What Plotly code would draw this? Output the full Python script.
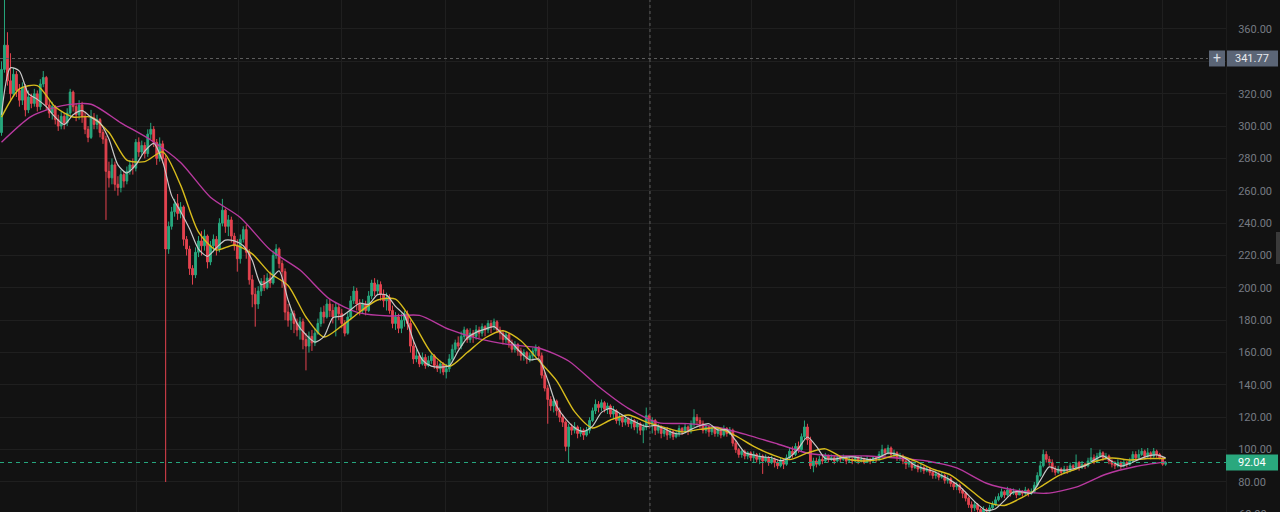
import numpy as np
import plotly.graph_objects as go

# ---------------- data ----------------
first_open = 296

closes = [
    335, 350, 328, 320, 332, 322, 316, 324, 310, 318,
    314, 320, 312, 326, 330, 313, 308, 312, 304, 300,
    306, 302, 308, 321, 312, 307, 313, 306, 298, 293,
    305, 301, 304, 296, 292, 272, 268, 276, 264, 262,
    270, 266, 272, 276, 274, 290, 284, 288, 283, 295,
    298, 290, 280, 289, 280, 224, 238, 247, 252, 246,
    250, 230, 224, 212, 208, 222, 229, 226, 232, 216,
    226, 230, 224, 240, 248, 238, 242, 232, 226, 218,
    230, 236, 222, 205, 196, 190, 198, 204, 200, 206,
    203, 220, 224, 215, 210, 185, 180, 184, 178, 174,
    179, 168, 164, 170, 166, 172, 178, 185, 182, 190,
    186, 182, 188, 184, 178, 172, 182, 192, 198, 190,
    186, 190, 186, 195, 203, 198, 202, 196, 192, 194,
    186, 178, 182, 175, 180, 184, 178, 164, 156, 158,
    153, 157, 152, 155, 158, 152, 150, 153, 148, 150,
    156, 162, 166, 164, 170, 174, 168, 172, 170, 174,
    172, 176, 174, 178, 176, 179, 174, 172, 168, 171,
    166, 162, 165, 161, 158, 160, 156, 158, 161, 163,
    158, 146, 138, 131, 127, 130, 124, 120, 117, 102,
    114, 112, 114, 110, 112, 109, 112, 118, 124, 128,
    126, 129, 125, 127, 122, 124, 118, 120, 117, 119,
    116, 118, 114, 116, 112, 114, 121, 116, 118, 112,
    114, 110, 112, 109, 111, 108, 110, 113, 111, 114,
    112, 116, 120, 118, 116, 112, 114, 111, 113, 110,
    112, 109, 113, 110, 112, 104, 100, 97, 99, 96,
    98, 95, 97, 94, 96, 93, 95, 92, 94, 92,
    90, 93, 91, 95, 99, 97, 102, 100, 108, 114,
    106, 90, 93, 91, 94, 93, 96, 94, 95, 93,
    95, 94, 95, 93, 94, 93, 95, 93, 94, 92,
    94, 93, 95, 94, 97, 100, 98, 101, 97, 98,
    95, 96, 93, 91, 92, 89, 90, 88, 89, 87,
    88, 86, 84, 85, 83, 84, 81, 82, 79, 77,
    78, 75, 73, 70, 66, 64, 66, 63, 61, 63,
    62, 64, 66, 69, 71, 74, 72, 75, 73, 74,
    72, 74, 73, 75, 73, 74, 78, 84, 90, 97,
    94, 92, 88, 86, 88, 86, 88, 87, 90, 89,
    92, 89, 91, 90, 93, 95, 93, 96, 98, 95,
    96, 93, 91, 90, 92, 90, 92, 91, 93, 97,
    95, 97, 99, 96, 98, 96, 99, 97, 95, 91,
    92.04,
]

highs = [
    340, 378, 358, 345, 336, 334, 326, 327, 326, 322,
    320, 323, 322, 329, 334, 331, 316, 315, 313, 307,
    309, 308, 311, 323, 322, 314, 316, 315, 309, 300,
    310, 308, 307, 305, 298, 294, 278, 280, 278, 269,
    273, 272, 275, 279, 280, 292, 293, 291, 290, 298,
    302, 300, 292, 293, 291, 282, 241, 250, 255, 258,
    253, 251, 232, 226, 214, 225, 232, 235, 236, 233,
    229, 233, 232, 243, 255, 249, 245, 244, 234, 230,
    233, 238, 239, 224, 208, 200, 201, 206, 208, 209,
    210, 223, 227, 225, 217, 212, 190, 187, 186, 181,
    182, 181, 172, 173, 174, 175, 181, 188, 189, 193,
    193, 190, 191, 190, 187, 180, 185, 195, 201, 200,
    193, 193, 192, 198, 205, 206, 205, 204, 199, 197,
    196, 189, 185, 184, 184, 186, 186, 180, 167, 162,
    160, 160, 159, 158, 160, 159, 155, 155, 154, 153,
    159, 165, 168, 170, 173, 176, 175, 175, 174, 177,
    176, 178, 177, 180, 180, 181, 180, 176, 174, 173,
    172, 168, 167, 166, 163, 162, 161, 160, 163, 165,
    164, 160, 148, 140, 133, 132, 131, 126, 122, 118,
    116, 116, 117, 115, 114, 113, 114, 120, 126, 131,
    130, 131, 130, 129, 128, 127, 125, 122, 121, 121,
    120, 120, 119, 118, 117, 116, 126, 122, 120, 119,
    116, 115, 114, 114, 113, 112, 112, 115, 114, 116,
    115, 118, 125, 122, 120, 118, 116, 115, 115, 114,
    114, 113, 115, 114, 114, 113, 106, 101, 100, 100,
    99, 99, 99, 98, 98, 97, 97, 96, 96, 95,
    94, 95, 94, 97, 101, 102, 104, 105, 110, 118,
    116, 108, 95, 95, 96, 96, 98, 97, 97, 96,
    97, 96, 97, 96, 96, 95, 96, 96, 96, 95,
    96, 95, 96, 96, 99, 103, 101, 103, 102, 100,
    99, 98, 97, 94, 94, 93, 92, 91, 91, 90,
    90, 89, 87, 87, 86, 86, 85, 84, 83, 80,
    80, 79, 76, 74, 71, 68, 68, 67, 64, 65,
    64, 66, 68, 71, 73, 76, 75, 77, 76, 76,
    75, 76, 75, 77, 76, 76, 80, 86, 93, 100,
    99, 96, 94, 90, 90, 89, 90, 90, 92, 91,
    97, 93, 93, 92, 95, 101, 97, 98, 100, 99,
    98, 97, 94, 93, 94, 93, 94, 93, 95, 99,
    99, 100, 101, 100, 101, 99, 101, 100, 98, 96,
    93,
]

lows = [
    294, 333, 325, 316, 318, 318, 312, 313, 306, 308,
    311, 312, 309, 310, 324, 310, 305, 304, 301, 297,
    298, 298, 300, 306, 309, 303, 304, 302, 295, 290,
    292, 298, 298, 293, 289, 242, 262, 264, 260, 257,
    259, 262, 264, 270, 270, 272, 281, 282, 280, 281,
    292, 287, 276, 278, 277, 80, 221, 236, 244, 242,
    243, 226, 220, 208, 202, 206, 219, 220, 223, 212,
    214, 222, 220, 222, 238, 234, 232, 228, 223, 210,
    215, 228, 218, 202, 188, 176, 187, 195, 198, 199,
    200, 202, 218, 212, 200, 180, 176, 174, 172, 170,
    168, 162, 149, 160, 161, 164, 171, 176, 178, 181,
    182, 178, 170, 180, 175, 170, 171, 180, 190, 186,
    183, 184, 183, 185, 193, 195, 196, 192, 188, 186,
    184, 175, 174, 172, 172, 176, 174, 160, 153, 154,
    151, 152, 150, 151, 153, 150, 148, 147, 146, 144,
    148, 154, 160, 162, 162, 168, 166, 166, 166, 168,
    169, 170, 170, 172, 172, 174, 172, 168, 165, 166,
    163, 160, 160, 158, 155, 155, 153, 154, 155, 158,
    156, 144, 136, 116, 124, 123, 121, 117, 114, 99,
    92, 109, 110, 107, 108, 106, 108, 110, 117, 122,
    123, 124, 123, 122, 120, 119, 116, 115, 114, 115,
    114, 113, 112, 110, 109, 104, 112, 113, 110, 109,
    110, 107, 108, 106, 107, 106, 107, 108, 109, 110,
    109, 110, 114, 115, 113, 110, 110, 108, 109, 108,
    108, 107, 108, 108, 109, 102, 98, 95, 95, 94,
    94, 93, 92, 92, 91, 85, 92, 90, 91, 89,
    88, 89, 88, 90, 94, 95, 96, 98, 99, 106,
    103, 88, 86, 89, 90, 91, 92, 92, 93, 91,
    92, 92, 93, 91, 92, 91, 92, 91, 92, 91,
    92, 91, 92, 92, 93, 96, 96, 97, 95, 95,
    93, 93, 91, 88, 89, 87, 88, 86, 86, 85,
    86, 84, 82, 82, 81, 82, 79, 79, 77, 75,
    75, 73, 70, 68, 64, 61, 62, 60, 58, 59,
    59, 61, 63, 65, 68, 70, 70, 71, 71, 72,
    70, 72, 71, 72, 71, 72, 73, 77, 83, 89,
    92, 90, 86, 84, 85, 84, 85, 85, 86, 87,
    88, 87, 88, 88, 89, 92, 91, 92, 95, 93,
    94, 91, 89, 88, 89, 88, 89, 89, 90, 92,
    94, 94, 96, 94, 95, 94, 95, 95, 94, 90,
    90,
]

ma7 = [
    307, 336, 334, 320, 316.5, 312, 305.5, 301, 307, 309.5,
    305.5, 302, 292, 276, 271, 276, 284.5, 289.3, 278, 257,
    247.2, 236.5, 224, 219.5, 224.8, 229.5, 229, 226, 217, 202,
    205, 210.5, 192.5, 178, 171, 166.5, 169.8, 181.5, 182.5, 186.5,
    190.5, 189.8, 195.8, 195.5, 188.5, 183, 167.5, 155.5, 151.6, 151,
    151.8, 161, 169, 172.5, 174.5, 176, 171, 166, 160, 155.5,
    156, 143, 127, 119, 113.6, 111.2, 114.5, 123, 125.5, 122.5,
    119.2, 116.5, 114.2, 115, 113, 110.3, 109.8, 112.5, 114.8, 116,
    112.2, 112.2, 105.5, 98.3, 96.7, 95.5, 95, 93.2, 95.3, 100.8,
    107.8, 102, 94.5, 94.2, 95.2, 95.5, 94.8, 93.8, 95.3, 97.8,
    97, 94.3, 90.3, 88.3, 86.8, 84, 81, 77.2, 71.7, 66.2,
    62.3, 63.5, 68.5, 73.8, 73.8, 73, 81, 89.3, 87.5, 87.4,
    88.6, 90.1, 93.5, 96.2, 92.7, 89.8, 91.5, 94, 96, 96.7,
    94.9,
]

ma25 = [
    305.5, 323, 325, 311.8, 305.6, 305.6, 296, 279, 278, 284,
    263.5, 234.5, 223.4, 226.5, 221, 209, 201.5, 182, 169.6, 176.5,
    185.1, 192.5, 193, 178.3, 159.8, 151.5, 160, 169, 173.5, 167.3,
    155, 142.5, 123.5, 113.4, 118.3, 121.4, 117, 113.8, 111, 112.5,
    113.4, 108.5, 102, 97, 93.8, 98, 100.5, 94.9, 93, 93.8,
    96.5, 93, 88, 84.3, 76, 67.5, 65.5, 70.5, 76.9, 83.8,
    88, 92.5, 94.8, 93.6, 94.5, 94.5,
]

ma99 = [
    290, 306, 312.5, 313.5, 302, 291.4, 277.5, 256, 243.5, 223.5,
    211, 193, 184.5, 182.6, 183, 174.3, 168.5, 165, 162.8, 154.8,
    139, 125.5, 116.7, 116.1, 113.8, 109, 103.5, 97.8, 96.1, 96.1,
    94.8, 93, 88.7, 79.2, 74.8, 73, 76.8, 84.8, 89.6, 92.4,
]

price_ticks = [80, 100, 120, 140, 160, 180, 200, 220, 240, 260, 280, 300, 320, 340, 360]
hidden_ticks = [340]          # covered by the crosshair label in the picture
crosshair_price = 341.77
crosshair_candle = 217.25
last_price = closes[-1]

# ---------------- figure ----------------
W, H = 1280, 512
MR = 54
PLOT_W = W - MR
Y_RANGE = [61.45, 377.92]
N = len(closes)
X_RANGE = [-0.5, -0.5 + PLOT_W / 2.985]

x = np.arange(N)
closes_a = np.array(closes, dtype=float)
opens_a = np.concatenate([[first_open], closes_a[:-1]])
highs_a = np.maximum.reduce([np.array(highs, float), opens_a, closes_a])
lows_a = np.minimum.reduce([np.array(lows, float), opens_a, closes_a])

UP = "#27a87e"
DOWN = "#e4434f"
BG = "#121212"
GRID = "#1f1f1f"
TXT = "#767b83"

fig = go.Figure()
fig.add_trace(go.Candlestick(
    x=x, open=opens_a, high=highs_a, low=lows_a, close=closes_a,
    increasing=dict(line=dict(color=UP, width=1), fillcolor=UP),
    decreasing=dict(line=dict(color=DOWN, width=1), fillcolor=DOWN),
    whiskerwidth=0, hoverinfo="skip", showlegend=False,
))

for vals, step, color, wdt in [
    (ma99, 10, "#b8399f", 1.4),
    (ma25, 6, "#d8bc1c", 1.4),
    (ma7, 3, "#c9c9c9", 1.2),
]:
    xs = np.arange(len(vals)) * step
    fig.add_trace(go.Scatter(
        x=xs, y=vals, mode="lines",
        line=dict(color=color, width=wdt, shape="spline", smoothing=0.7),
        hoverinfo="skip", showlegend=False,
    ))

def py(v):
    """data value -> paper y"""
    return (v - Y_RANGE[0]) / (Y_RANGE[1] - Y_RANGE[0])

def px(p):
    """pixel x -> paper x"""
    return p / PLOT_W

shapes = []
shapes.append(dict(type="line", xref="x", yref="paper", x0=crosshair_candle, x1=crosshair_candle,
                   y0=0, y1=1, line=dict(color="#5e5e5e", width=1, dash="3px,3px")))
shapes.append(dict(type="line", xref="paper", yref="y", x0=0, x1=px(1208), y0=crosshair_price,
                   y1=crosshair_price, line=dict(color="#5e5e5e", width=1, dash="3px,3px")))
shapes.append(dict(type="line", xref="paper", yref="y", x0=0, x1=1, y0=last_price, y1=last_price,
                   line=dict(color="#26a57d", width=1, dash="4px,4px")))
yc = py(crosshair_price)
hh = 8 / H
shapes.append(dict(type="rect", xref="paper", yref="paper", x0=px(1209), x1=px(1225),
                   y0=yc - hh, y1=yc + hh, fillcolor="#5b6576", line=dict(width=0)))
shapes.append(dict(type="rect", xref="paper", yref="paper", x0=px(1227), x1=px(1278),
                   y0=yc - hh, y1=yc + hh, fillcolor="#5b6576", line=dict(width=0)))
yl = py(last_price)
shapes.append(dict(type="rect", xref="paper", yref="paper", x0=px(1226), x1=px(1278),
                   y0=yl - hh, y1=yl + hh, fillcolor="#2aa87e", line=dict(width=0)))
shapes.append(dict(type="rect", xref="paper", yref="paper", x0=px(1276), x1=px(1281),
                   y0=1 - 264 / H, y1=1 - 232 / H, fillcolor="#3a3a3a", line=dict(width=0)))

annotations = [
    dict(xref="paper", yref="paper", x=px(1217), y=yc, text="+", showarrow=False,
         font=dict(family="Roboto", size=14, color="#d8dce2"), xanchor="center", yanchor="middle"),
    dict(xref="paper", yref="paper", x=px(1252), y=yc, text=f"{crosshair_price:.2f}", showarrow=False,
         font=dict(family="Roboto", size=11, color="#e8eaed"), xanchor="center", yanchor="middle"),
    dict(xref="paper", yref="paper", x=px(1252), y=yl, text=f"{last_price:.2f}", showarrow=False,
         font=dict(family="Roboto", size=11, color="#ffffff"), xanchor="center", yanchor="middle"),
    dict(xref="paper", yref="paper", x=px(1237), y=py(60), text="60.00", showarrow=False,
         font=dict(family="Roboto", size=11, color=TXT), xanchor="left", yanchor="middle"),
]

grid_candles = [45.06, 79.56, 114.07, 148.58, 183.08, 217.25, 251.42, 285.93, 320.1, 354.6, 389.1]

fig.update_layout(
    width=W, height=H,
    margin=dict(l=0, r=MR, t=0, b=0),
    paper_bgcolor=BG, plot_bgcolor=BG,
    showlegend=False,
    shapes=shapes, annotations=annotations,
    hovermode=False,
    boxgap=0.15,
    xaxis=dict(range=X_RANGE, showticklabels=False, tickvals=grid_candles, showgrid=True,
               gridcolor=GRID, gridwidth=1, zeroline=False, rangeslider=dict(visible=False),
               showline=False, ticks=""),
    yaxis=dict(range=Y_RANGE, side="right", tickvals=price_ticks,
               ticktext=["" if v in hidden_ticks else f"{v:.2f}" for v in price_ticks],
               showgrid=True, gridcolor=GRID,
               gridwidth=1, zeroline=False, showline=True, linecolor="#1c1c1c", ticks="",
               ticklabelstandoff=9,
               tickfont=dict(family="Roboto", size=11, color=TXT)),
)

fig.write_html(
    "out.html",
    config={"displayModeBar": False, "staticPlot": True},
    post_script="document.body.style.margin='0';document.body.style.background='%s';" % BG,
)
